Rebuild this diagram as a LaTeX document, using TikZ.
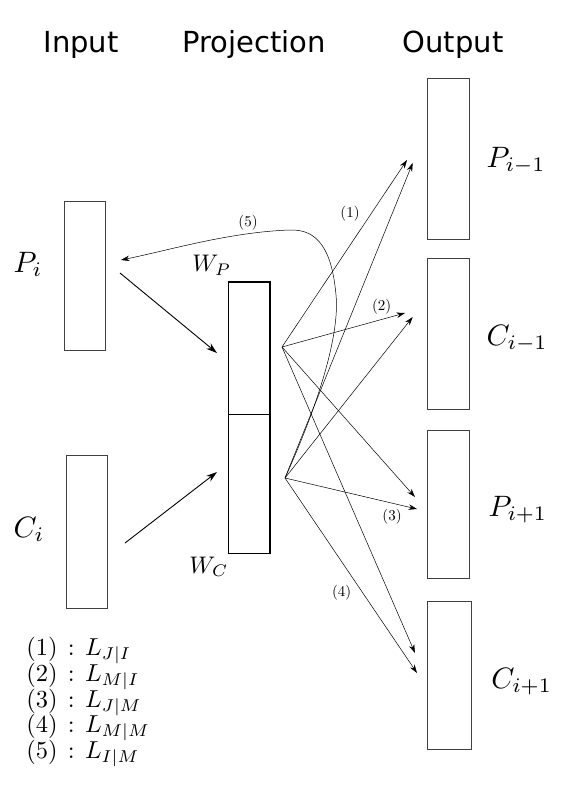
\documentclass[tikz,border=0pt]{standalone}
\usepackage{fontspec}
\newfontfamily\headfont{DejaVu Sans}
\usetikzlibrary{arrows.meta}

\begin{document}
\begin{tikzpicture}[x=1pt,y=-1pt,
  box/.style={draw=black!75,line width=0.8pt,inner sep=0pt,minimum width=41pt},
  projbox/.style={draw,line width=1.5pt,inner sep=0pt,minimum width=41.5pt,minimum height=271.5pt},
  head/.style={anchor=base,font=\headfont\fontsize{29}{34}\selectfont},
  var/.style={anchor=base west,inner sep=0pt,scale=2.95},
  wlab/.style={anchor=base west,inner sep=0pt,scale=2.4},
  num/.style={inner sep=0pt,scale=1.5},
  leg/.style={anchor=base west,inner sep=0pt,scale=2.45},
  link/.style={line width=0.5pt,-{Stealth[length=8.5pt,width=5.5pt]}},
  feed/.style={line width=0.9pt,-{Stealth[length=11pt,width=7pt]}}]
\useasboundingbox (0,0) rectangle (575,807);
% column titles
\node[head] (thin) at (81,52) {Input};
\node[head] (thproj) at (254,52) {Projection};
\node[head] (thout) at (453,52) {Output};
% input layer
\node[box,minimum height=149pt] (pin) at (85.3,276.2) {};
\node[box,minimum height=153pt] (cin) at (87,532.3) {};
\node[var] (lpin) at (13,272.5) {$P_i$};
\node[var] (lcin) at (13,537.5) {$C_i$};
% projection layer
\node[projbox] (proj) at (249.2,417.5) {};
\coordinate (div) at (249.2,414.3);
\draw[line width=1pt] (proj.west |- div) -- (proj.east |- div);
\node[wlab] (lwp) at (192,271.7) {$W_P$};
\node[wlab] (lwc) at (189,573) {$W_C$};
% output layer
\node[box,minimum width=42pt,minimum height=160.7pt] (opm) at (448.3,158.7) {};
\node[box,minimum width=42pt,minimum height=150.3pt] (ocm) at (448.3,333.9) {};
\node[box,minimum width=42pt,minimum height=147.6pt] (opp) at (448.3,504.5) {};
\node[box,minimum width=43.7pt,minimum height=147.3pt] (ocp) at (449.2,675.4) {};
\node[var] (lopm) at (486,167) {$P_{i-1}$};
\node[var] (locm) at (486,345.5) {$C_{i-1}$};
\node[var] (lopp) at (488,516.5) {$P_{i+1}$};
\node[var] (locp) at (490.7,688.5) {$C_{i+1}$};
% arrow ends
\coordinate (pout) at (120,273);
\coordinate (pend) at (217,353);
\coordinate (cout) at (125,543);
\coordinate (cend) at (217,472);
\coordinate (fu) at (282,347);
\coordinate (fl) at (285,478);
\coordinate (fupm) at (407,160);
\coordinate (fucm) at (405,313);
\coordinate (fupp) at (415,497);
\coordinate (fucp) at (415,653);
\coordinate (flpm) at (412.7,163);
\coordinate (flcm) at (412.7,317);
\coordinate (flpp) at (417,509);
\coordinate (flcp) at (417,673);
\coordinate (c5) at (121,260);
% connections
\draw[feed] (pout) -- (pend);
\draw[feed] (cout) -- (cend);
\draw[link] (fu) -- (fupm);
\draw[link] (fu) -- (fucm);
\draw[link] (fu) -- (fupp);
\draw[link] (fu) -- (fucp);
\draw[link] (fl) -- (flpm);
\draw[link] (fl) -- (flcm);
\draw[link] (fl) -- (flpp);
\draw[link] (fl) -- (flcp);
\draw[link] (fl) .. controls (318,405) and (340,335) .. (336,295)
  .. controls (332,250) and (318,229) .. (290,230)
  .. controls (230,232) and (170,250) .. (c5);
\node[num] (n1) at (350,214) {(1)};
\node[num] (n2) at (381.7,307) {(2)};
\node[num] (n3) at (392,516.7) {(3)};
\node[num] (n4) at (341.7,592.7) {(4)};
\node[num] (n5) at (248,223) {(5)};
% legend
\node[leg] (leg1) at (26,655) {$(1)\mskip2.5mu:\mskip2.5mu L_{J|I}$};
\node[leg] (leg2) at (26,681) {$(2)\mskip2.5mu:\mskip2.5mu L_{M|I}$};
\node[leg] (leg3) at (26,707) {$(3)\mskip2.5mu:\mskip2.5mu L_{J|M}$};
\node[leg] (leg4) at (26,732) {$(4)\mskip2.5mu:\mskip2.5mu L_{M|M}$};
\node[leg] (leg5) at (26,758) {$(5)\mskip2.5mu:\mskip2.5mu L_{I|M}$};
\end{tikzpicture}
\end{document}
